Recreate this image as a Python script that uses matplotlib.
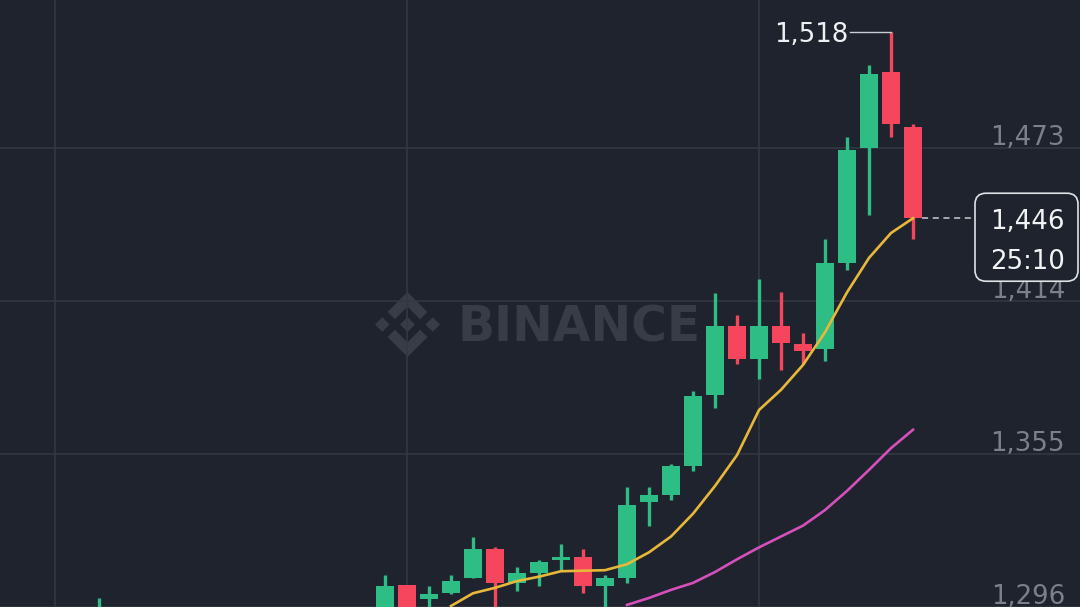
import matplotlib
matplotlib.use("Agg")
import matplotlib.pyplot as plt
from matplotlib.patches import Polygon, FancyBboxPatch
from matplotlib.transforms import IdentityTransform

# candle data (index 0 = first fully visible candle)
candle_idx = [-13] + list(range(0, 25))
opens = [1290.0, 1294.0, 1304.3, 1299.2, 1301.3, 1307.3, 1318.3, 1305.4, 1309.3, 1314.3, 1315.2,
         1304.2, 1307.3, 1336.6, 1339.3, 1350.4, 1377.8, 1404.6, 1391.8, 1404.6, 1397.6,
         1395.6, 1428.8, 1473.2, 1502.4, 1481.1]
highs = [1299.5, 1308.3, 1304.6, 1304.1, 1308.3, 1323.2, 1319.3, 1311.3, 1314.3, 1320.3, 1318.3,
         1308.3, 1342.4, 1342.4, 1351.0, 1379.5, 1417.0, 1408.8, 1422.7, 1417.7, 1401.7,
         1438.0, 1477.3, 1505.3, 1518.0, 1482.4]
lows = [1284.0, 1290.0, 1293.0, 1295.0, 1301.2, 1307.2, 1294.0, 1302.2, 1304.2, 1310.2, 1301.3,
        1294.0, 1305.4, 1327.4, 1337.4, 1348.5, 1372.7, 1389.7, 1383.8, 1387.6, 1389.7,
        1390.8, 1425.9, 1447.1, 1477.3, 1438.0]
closes = [1295.0, 1304.1, 1295.0, 1301.2, 1306.1, 1318.3, 1305.4, 1309.2, 1313.3, 1315.3, 1304.2,
          1307.1, 1335.4, 1339.3, 1350.4, 1377.6, 1404.6, 1391.8, 1404.6, 1397.8, 1394.8,
          1428.8, 1472.2, 1501.5, 1482.3, 1446.0]

ma7_idx = list(range(3, 25))
ma7 = [1296.4, 1301.3, 1303.4, 1306.0, 1307.7, 1309.8, 1310.0, 1310.2, 1312.5, 1317.1, 1323.2,
       1332.0, 1342.7, 1354.6, 1372.0, 1379.8, 1389.4, 1402.0, 1417.4, 1430.7, 1440.3, 1446.0]
ma25_idx = list(range(11, 25))
ma25 = [1296.8, 1299.5, 1302.6, 1305.3, 1309.5, 1314.4, 1319.0, 1323.2, 1327.4, 1333.4,
        1340.8, 1348.9, 1357.3, 1364.4]

price_ticks = [1296, 1355, 1414, 1473]
tick_labels = ['1,296', '1,355', '1,414', '1,473']
v_grid = [-15, 1, 17]
last_price = '1,446'
countdown = '25:10'
max_label = '1,518'

bg = '#1f232d'
grid_c = '#333844'
up_c = '#2ebd85'
down_c = '#f6465d'
wm_c = '#373c47'

W, H = 1080, 607
fig = plt.figure(figsize=(W / 100, H / 100), dpi=100)
fig.patch.set_facecolor(bg)
ax = fig.add_axes([0, 0, 1, 1])
ax.set_facecolor(bg)
ax.set_xlim(-17.5, 31.59)
ax.set_ylim(1298.0, 1530.2)
for s in ax.spines.values():
    s.set_visible(False)
ax.set_xticks(v_grid)
ax.set_yticks(price_ticks)
ax.tick_params(length=0, labelbottom=False, labelleft=False)
ax.grid(True, color=grid_c, lw=1.1)
ax.set_axisbelow(True)

# watermark
ax.text(457 / W, 1 - 342 / H, 'BINANCE', transform=ax.transAxes, ha='left', va='baseline',
        fontsize=35, fontweight='bold', color=wm_c, zorder=0.2, family='DejaVu Sans')
logo = [
    [(38.73, 53.2), (63.3, 28.64), (87.89, 53.22), (102.19, 38.92), (63.3, 0), (24.42, 38.9)],
    [(0, 63.31), (14.3, 49), (28.6, 63.31), (14.3, 77.61)],
    [(38.73, 73.41), (63.3, 97.99), (87.89, 73.4), (102.19, 87.7), (63.3, 126.61), (24.42, 87.7)],
    [(98.01, 63.31), (112.31, 49), (126.61, 63.31), (112.31, 77.61)],
    [(77.83, 63.3), (63.3, 48.76), (48.77, 63.28), (63.3, 77.82)],
]
sc = 65 / 126.61
for poly in logo:
    pts = [((375 + px * sc) / W, 1 - (292 + py * sc) / H) for px, py in poly]
    ax.add_patch(Polygon(pts, closed=True, fc=wm_c, ec='none', transform=ax.transAxes, zorder=0.2))

# candles
cols = [up_c if c >= o else down_c for o, c in zip(opens, closes)]
ax.vlines(candle_idx, lows, highs, colors=cols, lw=2.4, zorder=2)
bottoms = [min(o, c) for o, c in zip(opens, closes)]
heights = [max(abs(c - o), 0.8) for o, c in zip(opens, closes)]
ax.bar(candle_idx, heights, bottom=bottoms, width=0.86, color=cols, zorder=3)

# moving averages
ax.plot(ma7_idx, ma7, color='#e8b83a', lw=1.9, zorder=4, solid_joinstyle='round')
ax.plot(ma25_idx, ma25, color='#d54fbd', lw=1.9, zorder=4, solid_joinstyle='round')

# y labels on right
for v, lab in zip(price_ticks, tick_labels):
    ax.annotate(lab, xy=(1, v), xycoords=('axes fraction', 'data'), xytext=(-15, 3),
                textcoords='offset pixels', ha='right', va='baseline', fontsize=18.7,
                color='#7b808a', zorder=5, annotation_clip=False)

# max price marker
imax = highs.index(max(highs))
xmax = candle_idx[imax]
ax.plot([xmax - 41 / 22, xmax], [highs[imax], highs[imax]], color='#c9cdd4', lw=1.0, zorder=5)
ax.annotate(max_label, xy=(xmax - 41 / 22, highs[imax]), xytext=(-2, -10.5),
            textcoords='offset pixels', ha='right', va='baseline', fontsize=18.7,
            color='#eef0f3', zorder=5)

# last price line + box
fig.canvas.draw()
lp = closes[-1]
px, py = ax.transData.transform((candle_idx[-1], lp))
box_left = 975
x_box = ax.transData.inverted().transform((box_left, py))[0]
ax.plot([candle_idx[-1] + 0.43, x_box], [lp, lp], color='#c9cdd4', lw=1.1,
        dashes=(4, 3), zorder=5)
box = FancyBboxPatch((box_left, py - 63), 103, 88, boxstyle='round,pad=0,rounding_size=11',
                     transform=IdentityTransform(), fc=bg, ec='#dfe2e6', lw=1.2, zorder=6,
                     clip_on=False)
ax.add_patch(box)
ax.annotate(last_price, xy=(1, lp), xycoords=('axes fraction', 'data'), xytext=(-15, -11),
            textcoords='offset pixels', ha='right', va='baseline', fontsize=18.7,
            color='#f2f3f5', zorder=7)
ax.annotate(countdown, xy=(1, lp), xycoords=('axes fraction', 'data'), xytext=(-15, -51),
            textcoords='offset pixels', ha='right', va='baseline', fontsize=18.7,
            color='#f2f3f5', zorder=7)

fig.savefig('out.png', dpi=100, facecolor=bg)
